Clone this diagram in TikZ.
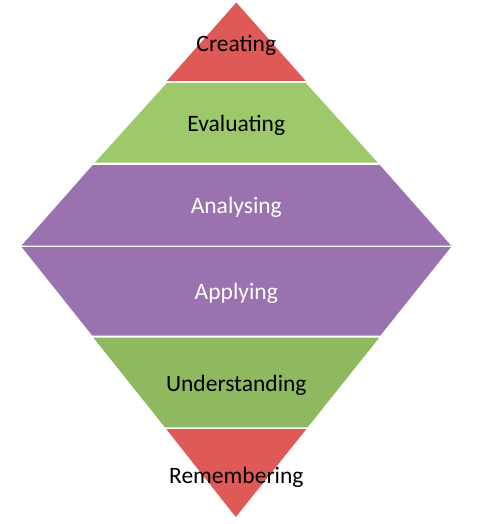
\documentclass[tikz,border=0pt]{standalone}
\usepackage{fontspec}
\setmainfont{Carlito}
\definecolor{bred}{HTML}{DF5A56}
\definecolor{bgreenA}{HTML}{9DC96B}
\definecolor{bgreenB}{HTML}{8FB95E}
\definecolor{bpurple}{HTML}{9B72B0}
\tikzset{
  band/.style={draw=none},
  lbl/.style={anchor=base, inner sep=0pt, font=\fontsize{23.5}{27}\selectfont},
}
\begin{document}
\begin{tikzpicture}[x=1pt,y=-1pt]
\useasboundingbox (0,0) rectangle (478,524);
\def\c{236.3}
% bands
\fill[bred]    (\c,2.5) -- (\c+69.5,81) -- (\c-69.5,81) -- cycle;
\fill[bgreenA] (\c-69.5,83) -- (\c+69.5,83) -- (\c+141.5,162.7) -- (\c-141.5,162.7) -- cycle;
\fill[bpurple] (\c-143.5,165) -- (\c+143.5,165) -- (\c+214.7,245.5) -- (\c-214.7,245.5) -- cycle;
\fill[bpurple] (\c-214.7,247) -- (\c+214.7,247) -- (\c+144,335.6) -- (\c-144,335.6) -- cycle;
\fill[bgreenB] (\c-143,337.6) -- (\c+143,337.6) -- (\c+71.3,427.4) -- (\c-71.3,427.4) -- cycle;
\fill[bred]    (\c-70,429.2) -- (\c+70,429.2) -- (\c-0.5,517) -- cycle;
% labels
\node[lbl] (creating) at (\c,51.7) {Creating};
\node[lbl] (evaluating) at (\c,131.7) {Evaluating};
\node[lbl, text=white] (analysing) at (\c,213.3) {Analysing};
\node[lbl, text=white] (applying) at (\c,299.3) {Applying};
\node[lbl] (understanding) at (\c,391) {Understanding};
\node[lbl] (remembering) at (\c,483.3) {Remembering};
\end{tikzpicture}
\end{document}
